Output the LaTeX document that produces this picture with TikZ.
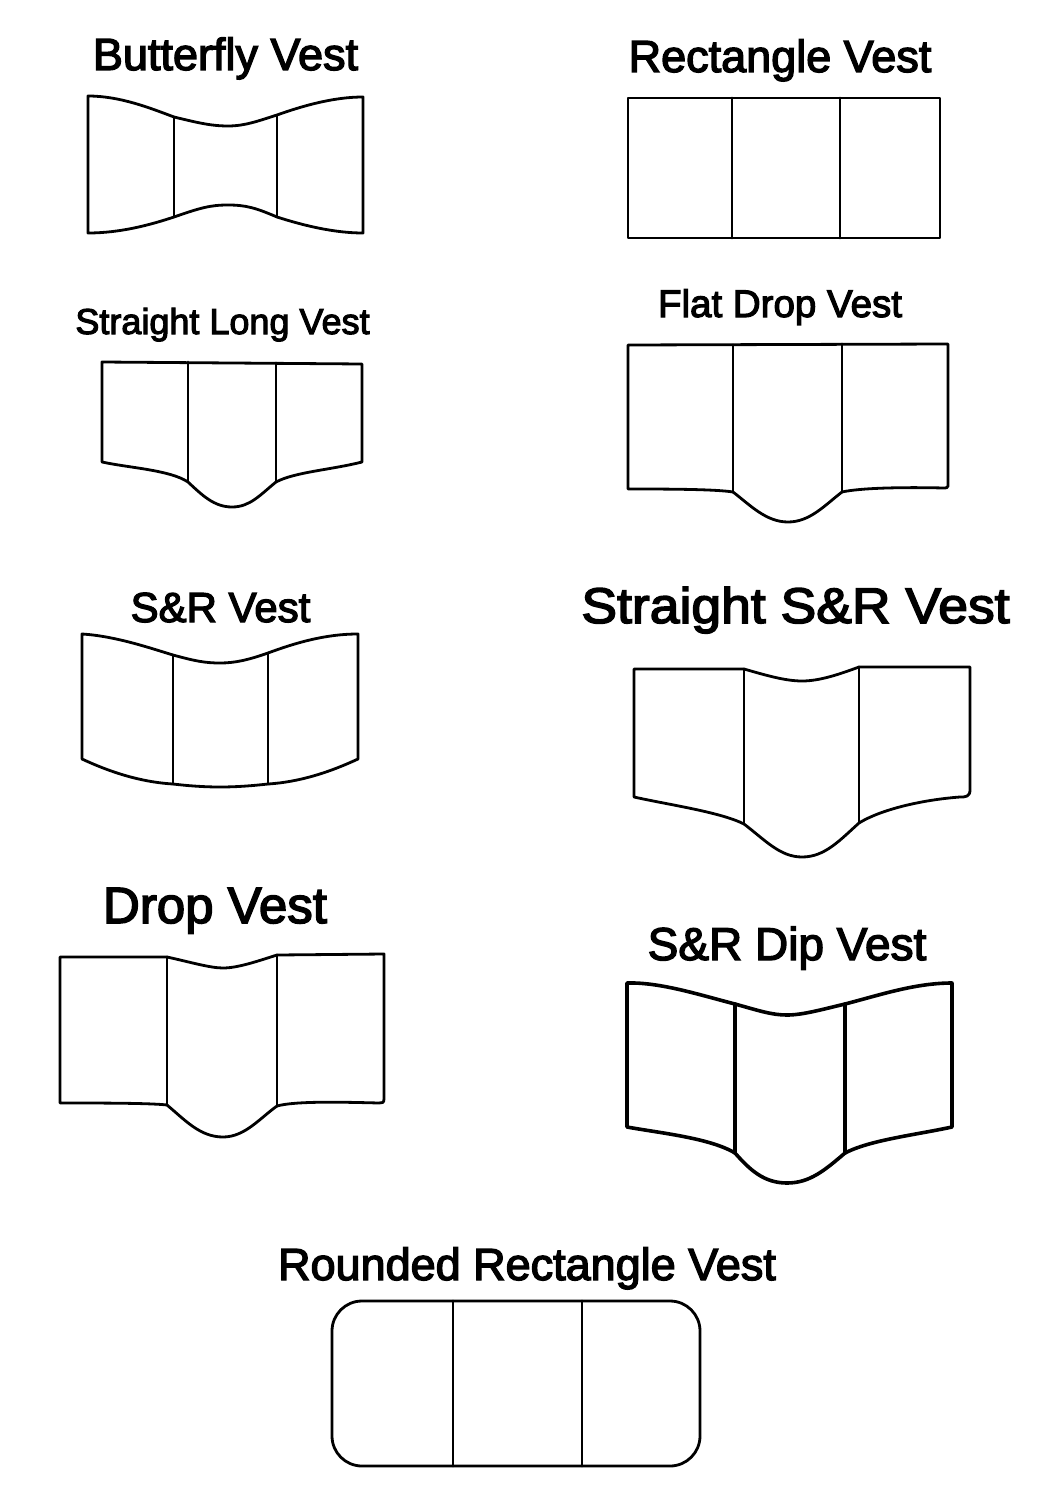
\documentclass[tikz,border=0pt]{standalone}
\usepackage{fontspec}
\setmainfont{Liberation Sans}[FakeBold=3]
\begin{document}
\begin{tikzpicture}[x=1pt,y=-1pt,
  vest/.style={draw=black,line width=2.8pt,line join=round,line cap=round},
  vestthick/.style={vest,line width=3.6pt},
  ttl/.style={anchor=base,inner sep=0pt,text=black}]
\useasboundingbox[fill=white] (0,0) rectangle (1060,1498);

% ---------- Titles ----------
\node[ttl,font=\fontsize{45}{50}\selectfont] (t1) at (225.5,70) {Butterfly Vest};
\node[ttl,font=\fontsize{45}{50}\selectfont] (t2) at (780,72) {Rectangle Vest};
\node[ttl,font=\fontsize{36}{40}\selectfont] (t3) at (222.5,334) {Straight Long Vest};
\node[ttl,font=\fontsize{38.5}{42}\selectfont] (t4) at (780,317) {Flat Drop Vest};
\node[ttl,font=\fontsize{42}{46}\selectfont] (t5) at (220.5,622) {S\&R Vest};
\node[ttl,font=\fontsize{50}{54}\selectfont,xscale=1.07] (t6) at (795.5,623) {Straight S\&R Vest};
\node[ttl,font=\fontsize{51}{55}\selectfont] (t7) at (215,923) {Drop Vest};
\node[ttl,font=\fontsize{46}{50}\selectfont] (t8) at (787,960) {S\&R Dip Vest};
\node[ttl,font=\fontsize{45}{50}\selectfont] (t9) at (527,1280) {Rounded Rectangle Vest};

% ---------- Butterfly Vest ----------
\coordinate (b1t) at (174,117); \coordinate (b1b) at (174,217);
\coordinate (b2t) at (277,115); \coordinate (b2b) at (277,217);
\draw[vest] (88,96) -- (88,233)
  .. controls (120,233) and (150,225) .. (b1b)
  .. controls (200,208) and (210,205) .. (228,205)
  .. controls (246,205) and (256,208) .. (b2b)
  .. controls (305,226) and (335,233) .. (363,233)
  -- (363,97)
  .. controls (335,97) and (305,105) .. (b2t)
  .. controls (258,121) and (245,126) .. (228,126)
  .. controls (210,126) and (195,122) .. (b1t)
  .. controls (150,108) and (120,96) .. (88,96) -- cycle;
\draw[vest] (b1t) -- (b1b);
\draw[vest] (b2t) -- (b2b);

% ---------- Rectangle Vest ----------
\coordinate (r1t) at (732,98); \coordinate (r1b) at (732,238);
\coordinate (r2t) at (840,98); \coordinate (r2b) at (840,238);
\draw[vest] (628,98) rectangle (940,238);
\draw[vest] (r1t) -- (r1b);
\draw[vest] (r2t) -- (r2b);

% ---------- Straight Long Vest ----------
\coordinate (s1t) at (188,362); \coordinate (s1b) at (188,482);
\coordinate (s2t) at (276,363); \coordinate (s2b) at (276,482);
\draw[vest] (102,362) -- (362,364) -- (362,462)
  .. controls (330,470) and (295,472) .. (s2b)
  .. controls (260,495) and (250,507) .. (232,507)
  .. controls (214,507) and (202,495) .. (s1b)
  .. controls (170,470) and (130,468) .. (102,462) -- cycle;
\draw[vest] (s1t) -- (s1b);
\draw[vest] (s2t) -- (s2b);

% ---------- Flat Drop Vest ----------
\coordinate (f1t) at (733,345); \coordinate (f1b) at (733,492);
\coordinate (f2t) at (842,344); \coordinate (f2b) at (842,492);
\draw[vest] (628,345) -- (948,344) -- (948,486)
  .. controls (948,488) and (946,488) .. (944,488)
  .. controls (900,487) and (860,488) .. (f2b)
  .. controls (825,505) and (810,522) .. (788,522)
  .. controls (766,522) and (750,505) .. (f1b)
  .. controls (715,489) and (660,489) .. (628,489) -- cycle;
\draw[vest] (f1t) -- (f1b);
\draw[vest] (f2t) -- (f2b);

% ---------- S&R Vest ----------
\coordinate (p1t) at (173,655); \coordinate (p1b) at (173,784);
\coordinate (p2t) at (268,653); \coordinate (p2b) at (268,784);
\draw[vest] (82,634)
  .. controls (115,636) and (150,648) .. (p1t)
  .. controls (195,661) and (205,663) .. (220,663)
  .. controls (235,663) and (248,660) .. (p2t)
  .. controls (295,643) and (325,634) .. (358,634)
  -- (358,759)
  .. controls (330,772) and (300,782) .. (p2b)
  .. controls (250,786) and (235,787) .. (220,787)
  .. controls (205,787) and (190,786) .. (p1b)
  .. controls (140,782) and (110,772) .. (82,759) -- cycle;
\draw[vest] (p1t) -- (p1b);
\draw[vest] (p2t) -- (p2b);

% ---------- Straight S&R Vest ----------
\coordinate (q1t) at (744,669); \coordinate (q1b) at (744,824);
\coordinate (q2t) at (859,667); \coordinate (q2b) at (859,823);
\draw[vest] (634,669) -- (q1t)
  .. controls (765,675) and (785,681) .. (802,681)
  .. controls (820,681) and (840,674) .. (q2t)
  -- (970,667) -- (970,790)
  .. controls (970,797) and (965,797) .. (960,797)
  .. controls (920,800) and (880,810) .. (q2b)
  .. controls (840,840) and (825,857) .. (802,857)
  .. controls (780,857) and (765,840) .. (q1b)
  .. controls (720,812) and (670,805) .. (634,797) -- cycle;
\draw[vest] (q1t) -- (q1b);
\draw[vest] (q2t) -- (q2b);

% ---------- Drop Vest ----------
\coordinate (d1t) at (167,957); \coordinate (d1b) at (167,1105);
\coordinate (d2t) at (277,955); \coordinate (d2b) at (277,1106);
\draw[vest] (60,957) -- (d1t)
  .. controls (190,962) and (210,968) .. (223,968)
  .. controls (238,968) and (258,961) .. (d2t)
  -- (384,954) -- (384,1099)
  .. controls (384,1103) and (382,1103) .. (379,1103)
  .. controls (340,1102) and (295,1101) .. (d2b)
  .. controls (260,1118) and (245,1137) .. (223,1137)
  .. controls (200,1137) and (185,1120) .. (d1b)
  .. controls (150,1103) and (100,1103) .. (60,1103) -- cycle;
\draw[vest] (d1t) -- (d1b);
\draw[vest] (d2t) -- (d2b);

% ---------- S&R Dip Vest ----------
\coordinate (e1t) at (735,1004); \coordinate (e1b) at (735,1153);
\coordinate (e2t) at (845,1004); \coordinate (e2b) at (845,1153);
\draw[vestthick] (627,983)
  .. controls (660,982) and (700,995) .. (e1t)
  .. controls (760,1011) and (772,1015) .. (787,1015)
  .. controls (802,1015) and (820,1010) .. (e2t)
  .. controls (880,995) and (915,983) .. (952,983)
  -- (952,1127)
  .. controls (915,1135) and (870,1140) .. (e2b)
  .. controls (825,1170) and (810,1183) .. (787,1183)
  .. controls (764,1183) and (750,1170) .. (e1b)
  .. controls (710,1138) and (660,1133) .. (627,1127) -- cycle;
\draw[vestthick] (e1t) -- (e1b);
\draw[vestthick] (e2t) -- (e2b);

% ---------- Rounded Rectangle Vest ----------
\coordinate (g1t) at (453,1301); \coordinate (g1b) at (453,1466);
\coordinate (g2t) at (582,1301); \coordinate (g2b) at (582,1466);
\draw[vest,rounded corners=30pt] (332,1301) rectangle (700,1466);
\draw[vest] (g1t) -- (g1b);
\draw[vest] (g2t) -- (g2b);
\end{tikzpicture}
\end{document}
